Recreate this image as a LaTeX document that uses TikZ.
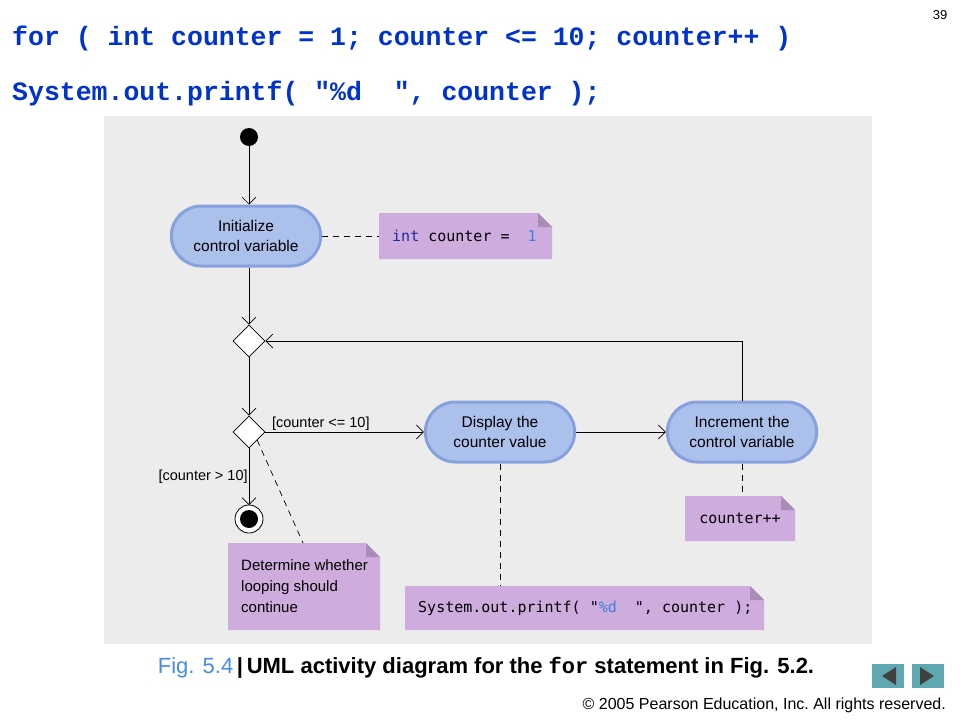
\documentclass[tikz,border=0pt]{standalone}
\usepackage{fontspec}
\setmainfont{Liberation Sans}
\newfontfamily\codefont{Liberation Mono}
\newfontfamily\notefont{DejaVu Sans Mono}
\usetikzlibrary{arrows.meta,shapes.geometric,shapes.misc}
\definecolor{codeblue}{RGB}{0,51,204}
\definecolor{panel}{RGB}{236,236,236}
\definecolor{pillfill}{RGB}{172,192,236}
\definecolor{pilldraw}{RGB}{135,160,222}
\definecolor{notefill}{RGB}{206,172,222}
\definecolor{kw}{RGB}{40,40,150}
\definecolor{lit}{RGB}{60,130,220}
\definecolor{figblue}{RGB}{70,140,230}
\definecolor{teal}{RGB}{95,168,178}
\begin{document}
\begin{tikzpicture}[x=1pt,y=-1pt,
  pill/.style={rounded rectangle,fill=pillfill,draw=pilldraw,line width=3pt,minimum width=156pt,minimum height=60pt,align=center,font=\fontsize{15.5}{20}\selectfont},
  flow/.style={-{Straight Barb[length=7pt,width=14pt]},line width=0.7pt},
  dashlink/.style={dash pattern=on 6pt off 5pt,line width=0.7pt},
  dec/.style={diamond,draw,fill=white,minimum size=32pt,inner sep=0pt,line width=0.7pt},
  lbl/.style={font=\fontsize{14.5}{17}\selectfont,inner sep=1pt},
  ncode/.style={font=\notefont\fontsize{15}{18}\selectfont,inner sep=0pt},
  code/.style={font=\codefont\bfseries\fontsize{26.5}{30}\selectfont,text=codeblue,anchor=west,inner sep=0pt}
]
\useasboundingbox (0,0) rectangle (960,720);
\fill[white] (0,0) rectangle (960,720);
\node[font=\fontsize{13}{15}\selectfont,inner sep=0pt] (pg) at (940,15) {39};
\node[code] (l1) at (12,38) {for ( int counter = 1; counter <= 10; counter++ )};
\node[code] (l2) at (12,93) {System.out.printf( "\%d\ \ ", counter );};
\fill[panel] (104,116) rectangle (872,644);
\newcommand{\mynote}[4]{\fill[notefill] (#1,#2) -- (#3-14,#2) -- (#3,#2+14) -- (#3,#4) -- (#1,#4) -- cycle;
  \fill[notefill!70!black!60!notefill] (#3-14,#2) -- (#3,#2+14) -- (#3-14,#2+14) -- cycle;}
\mynote{379}{213}{552}{259}
\mynote{228}{543}{380}{630}
\mynote{685}{496}{795}{541}
\mynote{405}{586}{764}{630}
\node[ncode,anchor=west] (n1) at (392,236) {\textcolor{kw}{int} counter =\ \ \textcolor{lit}{1}};
\node[lbl,anchor=west,align=left,font=\fontsize{15}{21}\selectfont] (n2) at (240,586) {Determine whether\\looping should\\continue};
\node[ncode] (n3) at (740,518) {counter++};
\node[ncode,anchor=west] (n4) at (418,608) {System.out.printf( "\textcolor{lit}{\%d\ \ }", counter );};
\coordinate (n1w) at (379,236);
\coordinate (n2t) at (303,543);
\coordinate (n3t) at (742,496);
\coordinate (n4t) at (500,586);

\fill (249,137) circle (9);
\coordinate (start) at (249,146);
\node[pill] (init) at (246,236) {Initialize\\control variable};
\node[dec] (m) at (249,341) {};
\node[dec] (d) at (249,432) {};
\node[pill] (disp) at (500,432) {Display the\\counter value};
\node[pill] (inc) at (742,432) {Increment the\\control variable};
\draw[line width=0.8pt,fill=white] (249,519) circle (14);
\fill (249,519) circle (9);
\coordinate (fin) at (249,505);

\draw[flow] (start) -- (init.north -| start);
\draw[flow] (init.south -| m) -- (m.north);
\draw[flow] (m.south) -- (d.north);
\draw[flow] (d.east) -- node[lbl,above,pos=0.35] {[counter <= 10]} (disp.west);
\draw[flow] (disp.east) -- (inc.west);
\draw[flow] (inc.north) |- (m.east);
\draw[flow] (d.south) -- node[lbl,left,pos=0.5] {[counter > 10]} (fin);
\draw[dashlink] (init.east) -- (n1w);
\draw[dashlink] (d.south east) -- (n2t);
\draw[dashlink] (disp.south) -- (n4t);
\draw[dashlink] (inc.south) -- (n3t);

\node[font=\bfseries\fontsize{22}{26}\selectfont,inner sep=0pt] (cap) at (486,668)
 {\textcolor{figblue}{\mdseries Fig. 5.4}\,|\,UML activity diagram for the {\codefont for} statement in Fig. 5.2.};
\fill[teal] (872,664) rectangle (904,688);
\fill[teal] (912,664) rectangle (944,688);
\fill[black!75] (882,676) -- (896,667) -- (896,685) -- cycle;
\fill[black!75] (934,676) -- (920,667) -- (920,685) -- cycle;
\node[font=\fontsize{16}{19}\selectfont,anchor=east,inner sep=0pt] (copy) at (946,705) {\textcopyright\ 2005 Pearson Education, Inc.\ All rights reserved.};
\end{tikzpicture}
\end{document}
